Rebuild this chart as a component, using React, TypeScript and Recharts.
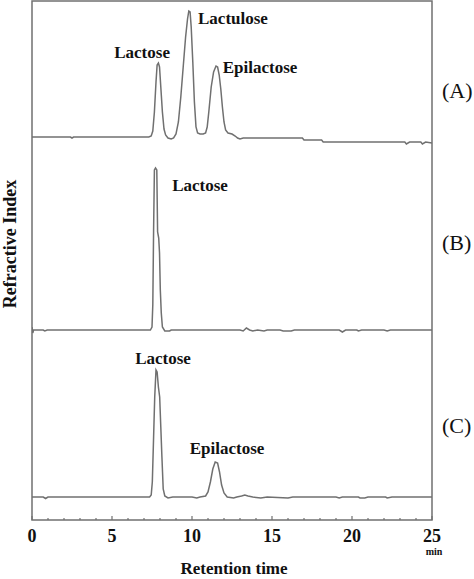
import { LineChart, Line, XAxis, YAxis, ReferenceArea, ReferenceDot } from 'recharts';

// [retention time (min), detector signal above baseline]
const traceA: [number, number][] = [
  [0, 0], [2.4, 0], [2.5, -1], [2.6, 0], [7.3, 0], [7.45, 1], [7.55, 6], [7.65, 25], [7.75, 55],
  [7.82, 72], [7.9, 74], [7.97, 70], [8.05, 50], [8.15, 25], [8.25, 8], [8.35, 2], [8.5, -1],
  [8.7, -2], [8.85, -1], [9.0, 3], [9.15, 15], [9.3, 40], [9.45, 70], [9.6, 100], [9.72, 118],
  [9.8, 126], [9.88, 125], [9.95, 110], [10.05, 75], [10.15, 35], [10.25, 10], [10.35, 4],
  [10.5, 3], [10.7, 3], [10.85, 4], [10.95, 10], [11.05, 25], [11.2, 50], [11.35, 65], [11.5, 71],
  [11.6, 70], [11.7, 62], [11.8, 48], [11.9, 30], [12.0, 15], [12.1, 7], [12.25, 4], [12.5, 3],
  [12.7, 1], [12.85, -1], [13.0, -2], [13.2, -1], [16.9, -1], [17.0, -3], [18.1, -3], [18.2, -5],
  [23.3, -5], [23.4, -7], [23.6, -5], [24.3, -5], [24.4, -7], [24.6, -5], [25, -6],
];

const traceB: [number, number][] = [
  [0, 3], [0.05, -3], [0.1, 0], [0.7, 0], [0.8, -1], [0.95, 0], [7.4, 0], [7.5, 3], [7.55, 25],
  [7.6, 100], [7.65, 160], [7.72, 162], [7.8, 160], [7.85, 98], [7.92, 92], [7.97, 77], [8.02, 40],
  [8.08, 17], [8.15, 3], [8.3, -1], [8.6, -1], [8.7, 0], [13.0, 0], [13.2, -1], [13.4, 2],
  [13.6, 0], [13.8, -1], [14.1, 0], [14.5, -1], [14.7, 0], [15.5, 0], [15.7, -1], [16.2, -1],
  [16.4, 0], [19.2, 0], [19.4, -2], [19.6, 0], [20.3, 0], [20.4, -1], [20.6, 0], [22.0, 0],
  [22.2, -1], [22.4, 0], [25, 0],
];

const traceC: [number, number][] = [
  [0, 0], [0.7, 0], [0.85, -1.5], [1.0, 0], [7.35, 0], [7.45, 2], [7.52, 15], [7.6, 60], [7.67, 100],
  [7.75, 127], [7.82, 125], [7.9, 110], [7.98, 100], [8.05, 70], [8.12, 40], [8.2, 8], [8.3, 1],
  [8.5, -1], [8.8, 0], [10.0, 0], [10.3, -1], [10.5, 0], [10.85, 1], [11.0, 5], [11.15, 15],
  [11.3, 28], [11.45, 35], [11.6, 34], [11.72, 25], [11.85, 12], [12.0, 4], [12.2, 0], [12.6, -1],
  [12.8, 0], [13.1, 1], [13.3, 2], [13.5, 1], [13.8, 0], [14.3, -1], [14.7, 0], [16.0, -1],
  [16.3, 0], [19.0, 0], [19.2, -1], [19.4, 0], [20.4, 0], [20.5, -1], [20.8, -1], [21, 0],
  [22.1, 0], [22.2, -1], [22.5, 0], [25, 0],
];

const xTicks = [0, 1, 2, 3, 4, 5, 6, 7, 8, 9, 10, 11, 12, 13, 14, 15, 16, 17, 18, 19, 20, 21, 22, 23, 24, 25];

// peak labels: [text, time, height]
const peakLabels: [string, number, number][] = [
  ['Lactose', 6.88, 468],
  ['Lactulose', 12.56, 502],
  ['Epilactose', 14.25, 453],
  ['Lactose', 10.5, 335],
  ['Lactose', 8.19, 162],
  ['Epilactose', 12.19, 72],
];

// vertical stacking of the three chromatograms
const OFFSET_A = 383;
const OFFSET_B = 190;
const OFFSET_C = 23;

const SERIF = '"Liberation Serif", "Times New Roman", serif';
const LINE = '#707070';

const toRows = (trace: [number, number][], offset: number) =>
  trace.map(([t, v]) => ({ t, v: v + offset }));

function AxisTick(props: any) {
  const { x, y, payload } = props;
  const major = payload.value % 5 === 0;
  return (
    <g>
      <line x1={x} y1={y} x2={x} y2={y - (major ? 4 : 2)} stroke={LINE} strokeWidth={1.2} />
      {major && (
        <text x={x} y={y + 22} textAnchor="middle" fontFamily={SERIF} fontWeight="bold" fontSize={18} fill="#111">
          {payload.value}
        </text>
      )}
      {payload.value === 25 && (
        <text x={x + 2} y={y + 35} textAnchor="middle" fontFamily={SERIF} fontWeight="bold" fontSize={10} fill="#111">
          min
        </text>
      )}
    </g>
  );
}

export default function App() {
  return (
    <div style={{ position: 'absolute', left: 0, top: 0 }}>
      <LineChart width={474} height={579} margin={{ top: 1, right: 42, bottom: 0, left: 32 }}>
        <XAxis
          type="number"
          dataKey="t"
          domain={[0, 25]}
          ticks={xTicks}
          interval={0}
          allowDataOverflow
          axisLine={false}
          tickLine={false}
          tickSize={0}
          tickMargin={0}
          height={59}
          tick={<AxisTick />}
        />
        <YAxis type="number" domain={[0, 519]} hide allowDataOverflow />
        <ReferenceArea x1={0} x2={25} y1={0} y2={519} fill="none" stroke={LINE} strokeWidth={1.5} ifOverflow="visible" />
        <Line data={toRows(traceA, OFFSET_A)} dataKey="v" type="linear" stroke={LINE} strokeWidth={1.5} dot={false} isAnimationActive={false} />
        <Line data={toRows(traceB, OFFSET_B)} dataKey="v" type="linear" stroke={LINE} strokeWidth={1.5} dot={false} isAnimationActive={false} />
        <Line data={toRows(traceC, OFFSET_C)} dataKey="v" type="linear" stroke={LINE} strokeWidth={1.5} dot={false} isAnimationActive={false} />
        {peakLabels.map(([text, t, h], i) => (
          <ReferenceDot
            key={i}
            x={t}
            y={h}
            r={0}
            fill="none"
            stroke="none"
            label={{ value: text, position: 'center', fill: '#111', fontFamily: SERIF, fontWeight: 'bold', fontSize: 17 }}
          />
        ))}
        <text x={442} y={98} fontFamily={SERIF} fontSize={22} fill="#111">(A)</text>
        <text x={442} y={250} fontFamily={SERIF} fontSize={22} fill="#111">(B)</text>
        <text x={442} y={433} fontFamily={SERIF} fontSize={22} fill="#111">(C)</text>
        <text
          x={16}
          y={244}
          transform="rotate(-90 16 244)"
          textAnchor="middle"
          fontFamily={SERIF}
          fontWeight="bold"
          fontSize={18}
          fill="#111"
        >
          Refractive Index
        </text>
        <text x={234} y={574} textAnchor="middle" fontFamily={SERIF} fontWeight="bold" fontSize={17} fill="#111">
          Retention time
        </text>
      </LineChart>
    </div>
  );
}
